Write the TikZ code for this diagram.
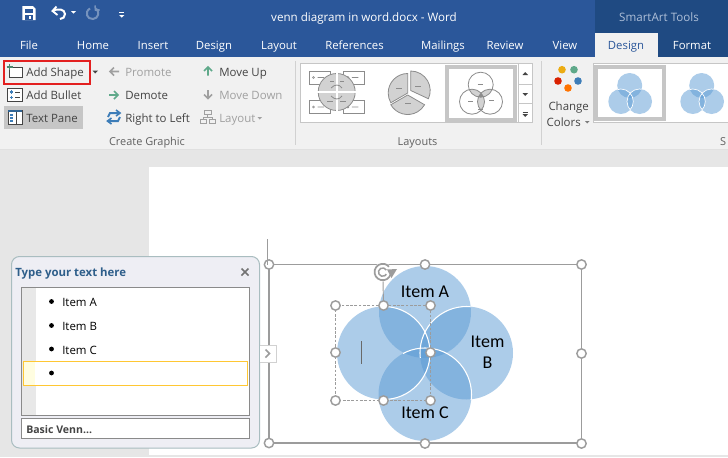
\documentclass[tikz,border=0pt]{standalone}
\usepackage{fontspec}
\setmainfont{Open Sans}
\newfontfamily\calib{Carlito}
\usetikzlibrary{calc}
\definecolor{wordblue}{HTML}{2B579A}
\definecolor{wordblued}{HTML}{1F4A82}
\definecolor{ribbon}{HTML}{F1F1F1}
\definecolor{work}{HTML}{E6E6E6}
\definecolor{vblue}{HTML}{5B9BD5}
\definecolor{hgray}{HTML}{9C9C9C}
\definecolor{ink}{HTML}{444444}
\definecolor{dimtxt}{HTML}{A0A0A0}
\definecolor{arrgreen}{HTML}{5FA98A}
\definecolor{arrblue}{HTML}{3D7DB8}
\definecolor{sel}{HTML}{C6C6C6}
\definecolor{panebg}{HTML}{EEEEF4}
\definecolor{paneedge}{HTML}{A9BDC0}
\definecolor{boxedge}{HTML}{8A8A8A}
\definecolor{thumb}{HTML}{D2D2D2}
\definecolor{thumbl}{HTML}{8C8C8C}
\definecolor{redbox}{HTML}{E32020}
\tikzset{
  tab/.style={inner sep=0pt,anchor=base,text=white,font=\fontsize{8.5}{10}\selectfont},
  ttl/.style={tab,font=\fontsize{8.7}{10}\selectfont},
  rib/.style={inner sep=0pt,anchor=base west,text=ink,font=\fontsize{8.6}{10}\selectfont},
  ribdim/.style={rib,text=dimtxt},
  grp/.style={inner sep=0pt,anchor=base,text=ink!85,font=\fontsize{8.2}{10}\selectfont},
  hd/.style={circle,draw=hgray,fill=white,line width=1.1pt,minimum size=7pt,inner sep=0pt},
  venntxt/.style={inner sep=0pt,align=center,text=black,font=\calib\fontsize{13.5}{15.5}\selectfont},
  vfill/.style={fill=vblue,fill opacity=0.5},
  vedge/.style={draw=white,line width=.8pt},
  frameline/.style={draw=hgray,line width=.8pt},
  icon/.style={draw=ink,line width=.6pt},
  listtxt/.style={inner sep=0pt,anchor=base west,text=black,font=\fontsize{8.6}{10}\selectfont},
  thumbc/.style={draw=thumbl,line width=.6pt},
  paneframe/.style={draw=boxedge,line width=.75pt,fill=white},
}
\begin{document}
\begin{tikzpicture}[x=.75pt,y=-.75pt]
\useasboundingbox (0,0) rectangle (728,457);
% backgrounds
\fill[work] (0,150) rectangle (728,457);
\fill[white] (149,167) rectangle (728,455);
\fill[ribbon] (0,57) rectangle (728,149);
\draw[draw=black!12,line width=.75pt] (0,149.5) -- (728,149.5);
\fill[wordblue] (0,0) rectangle (728,57);
\fill[wordblued] (595,0) rectangle (728,57);
\fill[ribbon] (595,33) rectangle (658,57);
% quick access toolbar
\fill[white] (22.3,6) -- (33,6) -- (35.7,8.7) -- (35.7,20) -- (22.3,20) -- cycle;
\fill[wordblue] (24.7,9) rectangle (33.3,13);
\fill[wordblue] (25,15) rectangle (33,20);
\fill[white] (28.5,16) rectangle (31,19);
\draw[white,line width=1.5pt] (53,11) .. controls (57,8) and (65,9) .. (65,14) .. controls (65,17) and (63,19) .. (60,19);
\draw[white,line width=1.4pt,line join=miter] (56.5,6.5) -- (52.5,11) -- (57.5,15);
\fill[white] (71,11) -- (76,11) -- (73.5,13.5) -- cycle;
\draw[white!35!wordblue,line width=1.5pt] (90,8.5) .. controls (84,12) and (87,19.5) .. (93,19) .. controls (98.5,18.5) and (100,12) .. (96,8.5);
\draw[white!35!wordblue,line width=1.2pt] (95,5.5) -- (95.5,10) -- (99.5,10);
\draw[white,line width=.8pt] (119,12.7) -- (124,12.7);
\fill[white] (119,15) -- (124.5,15) -- (121.7,17.7) -- cycle;
% title bar and tabs
\node[ttl] (title) at (364,21) {venn diagram in word.docx - Word};
\node[ttl,text=white!62!wordblue] (tools) at (659,21) {SmartArt Tools};
\node[tab] (tfile) at (29,49.5) {File};
\node[tab] (thome) at (93,49.5) {Home};
\node[tab] (tins) at (153,49.5) {Insert};
\node[tab] (tdes) at (214,49.5) {Design};
\node[tab] (tlay) at (279,49.5) {Layout};
\node[tab] (tref) at (354.5,49.5) {References};
\node[tab] (tmail) at (443,49.5) {Mailings};
\node[tab] (trev) at (505,49.5) {Review};
\node[tab] (tview) at (565,49.5) {View};
\node[tab,text=wordblue] (tdes2) at (626,49.5) {Design};
\node[tab] (tfmt) at (692,49.5) {Format};
% create graphic group
\fill[sel] (4,106) rectangle (83,129);
\draw[icon,fill=white] (9.5,67) rectangle (22,77.5);
\draw[arrgreen!80!black,line width=1pt] (6.5,67) -- (12.5,67) (9.5,64) -- (9.5,70);
\node[rib] (addshape) at (26,76.5) {Add Shape};
\draw[redbox,line width=1.5pt] (3.5,61) rectangle (89.5,83.5);
\fill[ink] (92.5,70.5) -- (98,70.5) -- (95.2,73.5) -- cycle;
\draw[icon,fill=white] (7.5,88) rectangle (22,101);
\draw[arrblue,line width=.8pt] (9.5,92) -- (13,92) (11.2,90.2) -- (11.2,93.8) (9.5,97.5) -- (13,97.5) (11.2,95.7) -- (11.2,99.3);
\draw[ink,line width=.6pt] (15,92) -- (20,92) (15,97.5) -- (20,97.5);
\node[rib] (addbullet) at (26,99.5) {Add Bullet};
\draw[icon,fill=white] (8,110) rectangle (22,124);
\fill[arrblue!80!black] (8,109.5) rectangle (22,112);
\draw[ink,line width=.6pt] (16,112) -- (16,124);
\draw[arrblue,line width=.8pt] (10,115) -- (13,115) (10,118) -- (13,118) (10,121) -- (13,121);
\node[rib] (textpane) at (26,122) {Text Pane};
\draw[dimtxt,line width=1.2pt] (119,71.5) -- (110,71.5) (114,67.5) -- (110,71.5) -- (114,75.5);
\node[ribdim] (promote) at (125,76.5) {Promote};
\draw[arrgreen,line width=1.2pt] (109,95) -- (118,95) (114,91) -- (118,95) -- (114,99);
\node[rib] (demote) at (125,99.5) {Demote};
\draw[arrblue,line width=1.5pt] (120,113) -- (110,113) -- (108,117) (107.5,121) -- (118,121) -- (120,117);
\draw[arrblue,line width=1.2pt] (116,110) -- (120,113) -- (116,116) (111.5,118) -- (107.5,121) -- (111.5,124);
\node[rib] (rtl) at (125,122) {Right to Left};
\draw[arrgreen,line width=1.2pt] (208,75.5) -- (208,67) (204,71) -- (208,67) -- (212,71);
\node[rib] (moveup) at (219,76.5) {Move Up};
\draw[dimtxt,line width=1.2pt] (208,90) -- (208,98.5) (204,94.5) -- (208,98.5) -- (212,94.5);
\node[ribdim] (movedown) at (219,99.5) {Move Down};
\draw[dimtxt,line width=.6pt] (204.5,110.5) rectangle (211,114.5) (200.5,119.5) rectangle (206.5,123.5) (209.5,119.5) rectangle (215.5,123.5) (207.7,114.5) -- (207.7,117) (203.5,119.5) -- (203.5,117) -- (212.5,117) -- (212.5,119.5);
\node[ribdim] (layout) at (219,122) {Layout};
\fill[dimtxt] (257.5,117) -- (262,117) -- (259.7,119.5) -- cycle;
\node[grp] (cgraphic) at (147,145) {Create Graphic};
\draw[black!18,line width=.75pt] (295,61) -- (295,145) (541,61) -- (541,145);
% layouts gallery
\draw[fill=white,draw=sel,line width=.75pt] (300.5,63.5) rectangle (518.5,122.5);
\draw[fill=white,draw=sel,line width=.75pt] (518.5,63.5) rectangle (532.5,84) (518.5,84) rectangle (532.5,103) (518.5,103) rectangle (532.5,122.5);
\fill[ink] (522.5,75) -- (528,75) -- (525.2,72) -- cycle;
\fill[ink] (522.5,93) -- (528,93) -- (525.2,96) -- cycle;
\draw[ink,line width=.5pt] (522.5,112) -- (528,112);
\fill[ink] (522.5,114) -- (528,114) -- (525.2,117) -- cycle;
\foreach \xa/\ya in {309/71,343.3/71,309/100.5,343.3/100.5}{
  \draw[thumbc,fill=white] (\xa,\ya) rectangle ++(21.5,13.3);
  \draw[thumbl,line width=.5pt] (\xa+4.5,\ya+6.5) circle[radius=1] (\xa+8.5,\ya+6.5) -- (\xa+15,\ya+6.5);
}
\draw[thumbc,fill=thumb] (336.7,92) circle[radius=18.5];
\draw[white,line width=1.2pt] (336.7,72) -- (336.7,112) (317,92) -- (357,92);
\draw[thumbl,line width=.6pt] (330,81) -- (334,81) (340,81) -- (344,81) (327,101) -- (333,101) (340,101) -- (346,101);
\draw[thumbl,line width=.6pt] (331,88) .. controls (335,84) and (339,84) .. (342,88) (331,96) .. controls (335,100) and (339,100) .. (342,96);
% pie thumbnail (y axis flipped: angles run clockwise)
\draw[thumbc,fill=thumb] (407.7,93) -- ++(270:19.5) arc[start angle=270,end angle=150,radius=19.5] -- cycle;
\draw[thumbc,fill=thumb] (410.7,90.5) -- ++(-90:19.5) arc[start angle=-90,end angle=25,radius=19.5] -- cycle;
\draw[thumbc,fill=thumb] (407.7,95) -- ++(150:19.5) arc[start angle=150,end angle=30,radius=19.5] -- cycle;
\draw[thumbl,line width=.6pt] (396,88) -- (402,88) (415,86) -- (421,86) (405,103) -- (411,103);
% venn thumbnail
\draw[sel,line width=3pt] (447,66.8) rectangle (515.3,119.5);
\begin{scope}
\clip (480.7,84.7) circle[radius=12.5];
\fill[thumb] (472,101.7) circle[radius=12.5];
\fill[thumb] (490,101.7) circle[radius=12.5];
\end{scope}
\begin{scope}
\clip (472,101.7) circle[radius=12.5];
\fill[thumb] (490,101.7) circle[radius=12.5];
\clip (490,101.7) circle[radius=12.5];
\fill[thumbl] (480.7,84.7) circle[radius=12.5];
\end{scope}
\draw[thumbc] (480.7,84.7) circle[radius=12.5] (472,101.7) circle[radius=12.5] (490,101.7) circle[radius=12.5];
\draw[thumbl,line width=.6pt] (477.5,84) -- (483,84) (468,101) -- (473,101) (489,100.5) -- (494,100.5) (478,109) -- (483,109);
\node[grp] (glayouts) at (417.5,145) {Layouts};
% change colours
\fill[orange!50!yellow!70!brown] (562,69.7) circle[radius=3.8];
\fill[arrgreen] (574,69.7) circle[radius=3.8];
\fill[red!70!orange!85!black] (558,81) circle[radius=3.8];
\fill[arrblue] (578,81) circle[radius=3.8];
\fill[orange!90!red] (568,88) circle[radius=3.8];
\node[rib,anchor=base] (change) at (568.7,110) {Change};
\node[rib,anchor=base east] (colors) at (581,126) {Colors};
\fill[ink!70] (585,121) -- (589.5,121) -- (587.2,123.5) -- cycle;
% style gallery
\draw[fill=white,draw=sel,line width=.75pt] (593.5,63.5) rectangle (729,122.5);
\draw[sel,line width=3pt] (595.5,67) rectangle (664,119);
\foreach \dx in {0,72}{
  \fill[vfill] (629.7+\dx,85.5) circle[radius=12.5];
  \fill[vfill] (620.8+\dx,101.5) circle[radius=12.5];
  \fill[vfill] (639.5+\dx,101.5) circle[radius=12.5];
  \begin{scope}
  \clip (629.7+\dx,85.5) circle[radius=12.5] (620.8+\dx,101.5) circle[radius=12.5];
  \draw[white,line width=.5pt] (639.5+\dx,101.5) circle[radius=12.5];
  \end{scope}
  \begin{scope}
  \clip (629.7+\dx,85.5) circle[radius=12.5] (639.5+\dx,101.5) circle[radius=12.5];
  \draw[white,line width=.5pt] (620.8+\dx,101.5) circle[radius=12.5];
  \end{scope}
}
\node[grp] (gstyles) at (723,145) {S};
% diagram
\coordinate (oNW) at (269,264.5);
\coordinate (oSE) at (581.5,443);
\draw[frameline] (oNW) rectangle (oSE);
\coordinate (guideTop) at (267.5,239);
\fill[vfill] (425,312) circle[radius=46];
\fill[vfill] (466.5,353) circle[radius=46.5];
\fill[vfill] (425,394.5) circle[radius=46.5];
\fill[vfill] (383.5,353) circle[radius=46.5];
\begin{scope}
\clip (425,312) circle[radius=46] (425,394.5) circle[radius=46.5];
\draw[vedge] (383.5,353) circle[radius=46.5];
\end{scope}
\begin{scope}
\clip (425,312) circle[radius=46];
\draw[vedge] (466.5,353) circle[radius=46.5];
\end{scope}
\begin{scope}
\clip (403,340) rectangle (520,399.5);
\draw[vedge] (425,394.5) circle[radius=46.5];
\end{scope}
\node[venntxt,anchor=base] (itema) at (425,297) {Item A};
\node[venntxt] (itemb) at (487.5,352.5) {Item\\B};
\node[venntxt,anchor=base] (itemc) at (425,418) {Item C};
\draw[ink!80,line width=.6pt] (361.5,341) -- (361.5,364);
\coordinate (iNW) at (335.5,305.5);
\coordinate (iSE) at (430.5,400.5);
\draw[hgray,line width=.6pt,dash pattern=on 2pt off 1.2pt] (iNW) rectangle (iSE);
% outer handles
\node[hd] (o1) at (269,264.5) {};
\node[hd] (o2) at (425,264.5) {};
\node[hd] (o3) at (581.5,264.5) {};
\node[hd] (o4) at (269,353) {};
\node[hd] (o5) at (581.5,353.5) {};
\node[hd] (o6) at (269,443) {};
\node[hd] (o7) at (425,443.5) {};
\node[hd] (o8) at (581.5,443.5) {};
\draw[frameline] (guideTop) -- (guideTop |- o1);
% inner handles
\node[hd] (i1) at (335.5,305.5) {};
\node[hd] (i2) at (383.5,305.5) {};
\node[hd] (i3) at (430.5,305.5) {};
\node[hd] (i4) at (335.5,352.5) {};
\node[hd] (i5) at (430.5,352.5) {};
\node[hd] (i6) at (335.5,400.5) {};
\node[hd] (i7) at (383.5,400.5) {};
\node[hd] (i8) at (430.5,400.5) {};
% rotate handle
\coordinate (rot) at (382.7,272);
\draw[hgray,line width=.7pt] (i2) -- (383,280);
\fill[white] (rot) circle[radius=9.5];
\draw[hgray,line width=1.3pt] ($(rot)+(8,2)$) arc[start angle=14,end angle=320,radius=8.2];
\draw[hgray,line width=1.1pt] ($(rot)+(3.6,-2)$) arc[start angle=-30,end angle=-330,radius=4.2];
\fill[hgray] (387,269.5) -- (397,269) -- (391.5,278) -- cycle;
% text pane
\draw[draw=paneedge,fill=panebg,line width=.75pt,rounded corners=6pt] (11.5,256.5) rectangle (259.5,448);
\node[inner sep=0pt,anchor=base west,text=arrblue!75!black,font=\bfseries\fontsize{8.55}{10}\selectfont] (ptitle) at (15,276.5) {Type your text here};
\draw[ink!75,line width=1.2pt] (241.5,268.5) -- (248.5,275.5) (241.5,275.5) -- (248.5,268.5);
\draw[paneframe] (21.5,287.5) rectangle (249.5,415.5);
\fill[black!9] (22,288) rectangle (36,415);
\draw[draw=orange!55!yellow!80!white,fill=white,line width=.75pt] (23.5,361.5) rectangle (247.5,385);
\fill[yellow!12] (24,362) rectangle (35,384.5);
\foreach \by in {301.5,325.5,349,373}{\fill[black] (51.5,\by) circle[radius=2.4];}
\node[listtxt] (la) at (62,306) {Item A};
\node[listtxt] (lb) at (62,330) {Item B};
\node[listtxt] (lc) at (62,354) {Item C};
\draw[paneframe] (21.5,418.5) rectangle (249.5,438.5);
\node[inner sep=0pt,anchor=base west,text=ink,font=\fontsize{7.9}{10}\selectfont\bfseries] (basic) at (26,433) {Basic Venn...};
\draw[draw=black!18,fill=white,line width=.6pt] (260,345) -- (276.5,345) -- (276.5,362) -- (260,362);
\draw[hgray,line width=1.1pt] (265.5,349.5) -- (269.5,353.5) -- (265.5,357.5);
\end{tikzpicture}
\end{document}
